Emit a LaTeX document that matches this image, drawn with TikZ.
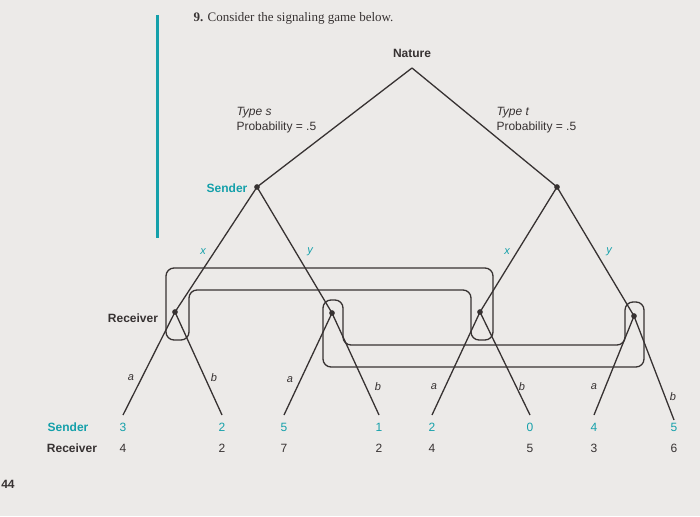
\documentclass[tikz,border=0pt]{standalone}
\usepackage{fontspec}
\setmainfont{Liberation Serif}
\newfontfamily\lab{Liberation Sans}
\definecolor{tealc}{RGB}{20,160,170}
\definecolor{ink}{RGB}{55,50,50}
\definecolor{paper}{RGB}{236,234,232}
\begin{document}
\begin{tikzpicture}[x=1pt,y=-1pt,
  br/.style={draw=ink,line width=1.3pt},
  dotn/.style={circle,fill=ink,inner sep=2pt},
  tl/.style={font=\lab\fontsize{12}{14}\selectfont,text=tealc},
  dl/.style={font=\lab\fontsize{12}{14}\selectfont,text=ink},
  bl/.style={font=\lab\fontsize{11}{13}\selectfont\itshape,text=ink},
  tx/.style={font=\lab\fontsize{11}{13}\selectfont\itshape,text=tealc},
  bd/.style={font=\lab\fontsize{12}{14}\selectfont\bfseries},
  iset/.style={draw=ink,line width=1.3pt,rounded corners=8pt}]
\fill[paper] (0,0) rectangle (700,516);
\useasboundingbox (0,0) rectangle (700,516);
\draw[tealc,line width=3pt] (157,15) -- (157,238);
\node[anchor=west,font=\fontsize{13}{15}\selectfont,text=ink] (title) at (190,18) {\textbf{9.} Consider the signaling game below.};
\node[bd,text=ink] (naturelab) at (412,53) {Nature};
\coordinate (N) at (412,68);
\node[dotn] (S1) at (257,187) {};
\node[dotn] (S2) at (557,187) {};
\node[dotn] (R1) at (175,312) {};
\node[dotn] (R2) at (332,313) {};
\node[dotn] (R3) at (480,312) {};
\node[dotn] (R4) at (634,316) {};
\foreach \n/\x in {L1/123,L2/222,L3/284,L4/379,L5/432,L6/530,L7/594} \coordinate (\n) at (\x,415);
\coordinate (L8) at (674,420);
\draw[br] (N) -- (S1.center) -- (R1.center) -- (L1);
\draw[br] (N) -- (S2.center) -- (R3.center) -- (L5);
\draw[br] (S1.center) -- (R2.center) -- (L3);
\draw[br] (S2.center) -- (R4.center) -- (L7);
\draw[br] (R1.center) -- (L2);
\draw[br] (R2.center) -- (L4);
\draw[br] (R3.center) -- (L6);
\draw[br] (R4.center) -- (L8);
\draw[iset] (166,300) -- (166,268) -- (493,268) -- (493,340) -- (471,340) -- (471,290) -- (189,290) -- (189,340) -- (166,340) -- (166,300);
\draw[iset] (333,300) -- (343,300) -- (343,345) -- (625,345) -- (625,302) -- (644,302) -- (644,367) -- (323,367) -- (323,300) -- (333,300);
\node[anchor=west,dl] (ts) at (233,113) {\itshape Type s};
\node[anchor=west,dl] (ps) at (233,127) {Probability = .5};
\node[anchor=west,dl] (tt) at (493,113) {\itshape Type t};
\node[anchor=west,dl] (pt) at (493,127) {Probability = .5};
\node[bd,text=tealc] (sendlab) at (227,188) {Sender};
\node[bd,text=ink] (reclab) at (133,318) {Receiver};
\node[tx] (x1) at (203,252) {x};
\node[tx] (y1) at (310,252) {y};
\node[tx] (x2) at (507,252) {x};
\node[tx] (y2) at (609,252) {y};
\foreach \n/\x/\y/\t in {a1/131/378/a,b1/214/378/b,a2/290/380/a,b2/378/387/b,a3/434/387/a,b3/522/387/b,a4/594/387/a,b4/673/397/b}
  \node[bl] (\n) at (\x,\y) {\t};
\node[bd,text=tealc] (sp) at (68,427) {Sender};
\node[bd,text=ink] (rp) at (72,448) {Receiver};
\foreach \n/\x/\s/\r in {p1/123/3/4,p2/222/2/2,p3/284/5/7,p4/379/1/2,p5/432/2/4,p6/530/0/5,p7/594/4/3,p8/674/5/6}{
  \node[tl] (\n s) at (\x,427) {\s};
  \node[dl] (\n r) at (\x,448) {\r};}
\node[bd,text=ink] (pg) at (8,484) {44};
\end{tikzpicture}
\end{document}
